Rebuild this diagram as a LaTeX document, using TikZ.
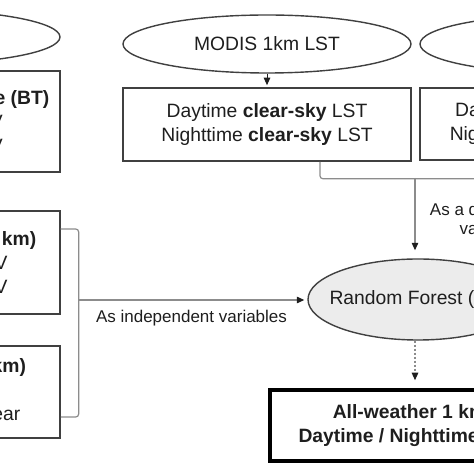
\documentclass[tikz,border=0pt]{standalone}
\usepackage{fontspec}
\setmainfont{Liberation Sans}
\usetikzlibrary{shapes.geometric, arrows.meta}
\definecolor{edge}{HTML}{404040}
\definecolor{linkgray}{HTML}{8C8C8C}
\definecolor{ink}{HTML}{1E1E1E}
\definecolor{rffill}{HTML}{ECECEC}
\newcommand{\bigtext}{\fontsize{19.3}{24}\selectfont}
\newcommand{\smalltext}{\fontsize{17}{18.5}\selectfont}

\begin{document}
\begin{tikzpicture}[x=1pt,y=1pt,text=ink,
    box/.style={draw=edge, line width=1.6pt, align=center, inner sep=0pt, font=\bigtext},
    src/.style={draw=edge, ellipse, line width=1.4pt, minimum width=288pt,
        minimum height=58pt, inner sep=0pt, font=\bigtext},
    link/.style={draw=linkgray, line width=1.2pt, rounded corners=3pt},
    tip/.style={-{Triangle[width=6.5pt,length=7.5pt,color=ink]}}]

\useasboundingbox (0,0) rectangle (474,474);
\clip (0,0) rectangle (474,474);

% Sources
\node[src, minimum height=54pt] (amsr) at (-84,437) {};
\node[src] (modis) at (267,430) {\makebox[0pt]{MODIS 1km LST}};
\node[src] (other) at (564,430) {};

% Input data
\node[box,
    minimum width=287pt,
    minimum height=101pt
] (bt) at (-83.5,352.5) {\textbf{Brightness Temperature (BT)}\\18.7 / 36.5 GHz H/V\\23.8 / 89.0 GHz H/V};

\node[box,
    minimum width=288pt,
    minimum height=73pt
] (clear) at (267,349.5) {Daytime \textbf{clear-sky} LST\\Nighttime \textbf{clear-sky} LST};

\node[box,
    minimum width=288pt,
    minimum height=72pt
] (cloudy) at (564,350) {Daytime \textbf{cloudy-sky} LST\\Nighttime \textbf{cloudy-sky} LST};

\node[box,
    minimum width=331pt,
    minimum height=103pt
] (bt1km) at (-105.6,211.5) {\textbf{Brightness Temperature (1 km)}\\10.7 / 18.7 / 36.5 GHz H/V\\23.8 / 36.5 / 89.0 GHz H/V};

\node[box,
    minimum width=212pt,
    minimum height=92pt
] (aux) at (-45.9,82) {\textbf{Auxiliary (1 km)}\\Elevation\\Day of the Year};

% Model and output
\node[draw=edge, ellipse, line width=1.4pt, fill=rffill,
    minimum width=220pt, minimum height=81pt, inner sep=0pt, font=\bigtext
] (rf) at (418,174.5) {\makebox[0pt]{Random Forest (RF)}};

\node[box, draw=black, line width=3.5pt,
    minimum width=279pt,
    minimum height=71pt, font=\bigtext\bfseries
] (out) at (409.5,48.5) {All-weather 1 km\\Daytime / Nighttime LST};

% Arrows
\draw[tip, draw=ink, line width=1pt, shorten >=2pt] (modis.south) -- (clear.north);
\draw[link] ([xshift=53pt]clear.south) |- ([xshift=-53pt,yshift=-18pt]cloudy.south) -- ([xshift=-53pt]cloudy.south);
\coordinate (dep) at (415,296);
\draw[link, tip, shorten >=8pt] (dep) -- (dep |- rf.north);
\node[font=\smalltext, align=center] (deplbl) at (489.5,255.2) {As a dependent\\variable};

\draw[link] ([yshift=33.5pt]bt1km.east) -- ++(18,0) |- ([yshift=-25pt]aux.east);
\coordinate (indep) at (78,174);
\draw[link, tip, shorten >=3pt] (indep) -- (indep -| rf.west);
\node[font=\smalltext, anchor=base] (indeplbl) at (191.5,151) {As independent variables};

\draw[link, dash pattern=on 2pt off 2pt, tip, shorten >=8pt] (rf.south -| dep) -- (out.north -| dep);

\end{tikzpicture}
\end{document}
